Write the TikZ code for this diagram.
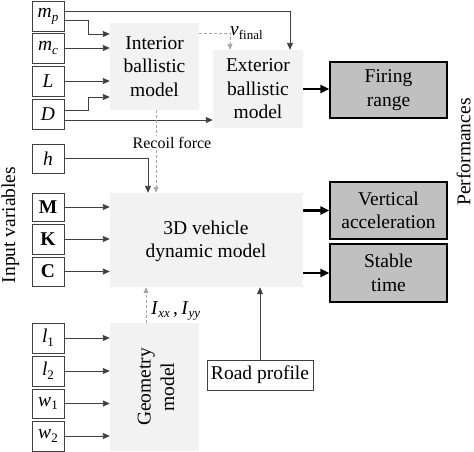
\documentclass[tikz,border=0pt]{standalone}
\usepackage{fontspec}
\setmainfont{Liberation Serif}
\usetikzlibrary{arrows.meta,calc}
\definecolor{darkline}{HTML}{404040}
\definecolor{lightfill}{HTML}{F2F2F2}
\definecolor{outfill}{HTML}{C0C0C0}
\definecolor{dashgray}{HTML}{A6A6A6}
\newcommand\mainsz{\fontsize{19.5}{23.5}\selectfont}
\newcommand\mysub[1]{\raisebox{-0.4ex}{\fontsize{13}{13}\selectfont #1}}
\begin{document}
\begin{tikzpicture}[x=1pt,y=-1pt,
  every node/.style={font=\mainsz, inner sep=0pt, align=center},
  inbox/.style={draw=darkline, line width=0.8pt, fill=white, minimum width=32pt},
  modelbox/.style={fill=lightfill},
  outbox/.style={draw=black, line width=1.3pt, fill=outfill, minimum width=117pt},
  roadbox/.style={draw=darkline, line width=0.8pt, fill=white, minimum width=106pt, minimum height=30pt},
  arr/.style={draw=darkline, line width=0.9pt, -{Triangle[length=7pt,width=6pt]}},
  thickarr/.style={draw=black, line width=2.2pt, -{Triangle[length=9pt,width=8pt]}},
  dasharr/.style={draw=dashgray, line width=0.9pt, dash pattern=on 3pt off 2pt, -{Triangle[length=6pt,width=5pt,fill=dashgray]}},
  lbl/.style={font=\fontsize{16}{18}\selectfont}
]
\useasboundingbox (0,0) rectangle (474,451);

% input boxes
\node[inbox, minimum height=30pt] (mp) at (48,16) {\textit{m}\mysub{\textit{p}}};
\node[inbox, minimum height=30pt] (mc) at (48,48) {\textit{m}\mysub{\textit{c}}};
\node[inbox, minimum height=30pt] (L) at (48,81) {\textit{L}};
\node[inbox, minimum height=30pt] (D) at (48,114) {\textit{D}};
\node[inbox, minimum height=29pt] (h) at (48,158.5) {\textit{h}};
\node[inbox, minimum height=28pt] (M) at (48,207) {\textbf{M}};
\node[inbox, minimum height=30pt] (K) at (48,239) {\textbf{K}};
\node[inbox, minimum height=29pt] (C) at (48,271.5) {\textbf{C}};
\node[inbox, minimum height=30pt] (l1) at (48,338) {\textit{l}\mysub{1}};
\node[inbox, minimum height=30pt] (l2) at (48,371) {\textit{l}\mysub{2}};
\node[inbox, minimum height=29pt] (w1) at (48,403.5) {\textit{w}\mysub{1}};
\node[inbox, minimum height=30pt] (w2) at (48,436) {\textit{w}\mysub{2}};

% model boxes
\node[modelbox, minimum width=89pt, minimum height=87pt] (int) at (154.5,66.5) {Interior\\ballistic\\model};
\node[modelbox, minimum width=90pt, minimum height=78pt] (ext) at (258,89) {Exterior\\ballistic\\model};
\node[modelbox, minimum width=193pt, minimum height=94pt] (veh) at (206.5,240) {};
\node at (206,241.5) {3D vehicle\\dynamic model};
\node[modelbox, minimum width=89pt, minimum height=128pt] (geo) at (154.5,387) {};
\node[rotate=90] at (156,387) {Geometry\\model};
\node[roadbox] (road) at (260,375) {Road profile};

% output boxes
\node[outbox, minimum height=56pt] (fr) at (388.5,90) {Firing\\range};
\node[outbox, minimum height=57pt] (va) at (388.5,210.5) {Vertical\\acceleration};
\node[outbox, minimum height=58pt] (st) at (388.5,273) {Stable\\time};

% side labels
\node[rotate=90] (inv) at (10.5,225) {Input variables};
\node[rotate=90] (perf) at (463.5,152) {Performances};

% inputs to interior / exterior
\draw[arr] ([yshift=5pt]mp.east) -| ([xshift=32pt]ext.north);
\draw[arr] ([yshift=-4pt]mp.east) -- ++(24,0) |- ([yshift=32.5pt]int.west);
\draw[arr] (mc.east) -- (mc.east -| int.west);
\draw[arr] (L.east) -- (L.east -| int.west);
\draw[arr] ([yshift=4pt]D.east) -- ++(24,0) |- ([yshift=-30.5pt]int.west);
\draw[arr] ([yshift=-6pt]D.east) -- ([yshift=-6pt]D.east -| ext.west);

% v_final
\draw[dasharr] ([yshift=33.5pt]int.east) -| ([xshift=-28pt]ext.north);
\node[anchor=west] (vf) at (230,33) {\textit{v}\mysub{final}};

% recoil force
\draw[dasharr] ([xshift=1.5pt]int.south) -- ([xshift=1.5pt]int.south |- veh.north);
\node[lbl, fill=white, inner sep=1pt] (rf) at (172,143) {Recoil force};

% h and M K C
\draw[arr] (h.east) -| ([xshift=-58.5pt]veh.north);
\draw[arr] (M.east) -- (M.east -| veh.west);
\draw[arr] (K.east) -- (K.east -| veh.west);
\draw[arr] (C.east) -- (C.east -| veh.west);

% geometry
\draw[arr] (l1.east) -- (l1.east -| geo.west);
\draw[arr] (l2.east) -- (l2.east -| geo.west);
\draw[arr] (w1.east) -- (w1.east -| geo.west);
\draw[arr] (w2.east) -- (w2.east -| geo.west);
\draw[dasharr] ([xshift=-8.5pt]geo.north) -- ([xshift=-8.5pt]geo.north |- veh.south);
\node[anchor=west] (ixx) at (151,311) {\textit{I}\mysub{\textit{xx}}\,,\,\textit{I}\mysub{\textit{yy}}};

% road
\draw[arr] (road.north) -- (road.north |- veh.south);

% outputs
\draw[thickarr] (ext.east) -- (ext.east -| fr.west);
\draw[thickarr] (va.west -| veh.east) -- (va.west);
\draw[thickarr] (st.west -| veh.east) -- (st.west);
\end{tikzpicture}
\end{document}
